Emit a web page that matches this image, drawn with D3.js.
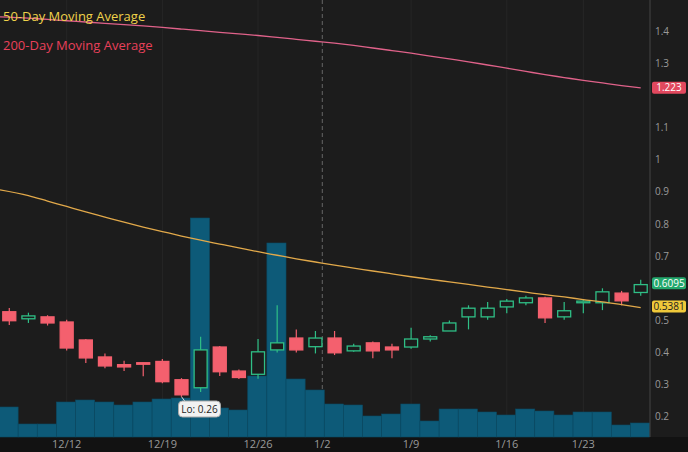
<!DOCTYPE html><html><head><meta charset="utf-8">
<script src="https://cdn.jsdelivr.net/npm/d3@7"></script>
<style>body{margin:0;background:#1c1c1c}</style></head><body><svg id="c" width="688" height="452"></svg>
<script>
const dates=["12/9","12/10","12/11","12/12","12/15","12/16","12/17","12/18","12/19","12/22","12/23","12/24","12/25","12/26","12/29","12/30","12/31","1/2","1/5","1/6","1/8","1/9","1/12","1/13","1/14","1/15","1/16","1/20","1/21","1/22","1/23","1/26","1/27","1/28"];
const openV=[0.525,0.503,0.509,0.493,0.437,0.384,0.360,0.366,0.370,0.313,0.288,0.415,0.340,0.330,0.406,0.443,0.416,0.443,0.403,0.428,0.415,0.415,0.440,0.465,0.509,0.509,0.540,0.553,0.568,0.509,0.553,0.553,0.583,0.585];
const closeV=[0.497,0.512,0.490,0.412,0.381,0.356,0.353,0.365,0.307,0.266,0.406,0.338,0.320,0.400,0.428,0.406,0.443,0.397,0.418,0.403,0.406,0.440,0.447,0.490,0.536,0.536,0.558,0.568,0.506,0.528,0.558,0.587,0.559,0.6095];
const highV=[0.537,0.522,0.514,0.500,0.440,0.395,0.372,0.366,0.378,0.318,0.447,0.418,0.345,0.440,0.545,0.470,0.465,0.465,0.425,0.432,0.425,0.475,0.452,0.498,0.545,0.555,0.565,0.575,0.572,0.555,0.565,0.598,0.590,0.625];
const lowV=[0.484,0.490,0.482,0.404,0.365,0.349,0.340,0.324,0.302,0.260,0.275,0.325,0.315,0.316,0.398,0.398,0.395,0.390,0.400,0.380,0.380,0.410,0.432,0.475,0.470,0.500,0.520,0.545,0.490,0.500,0.520,0.530,0.545,0.575];
const volume=[30,13,13,35,37,35,32,35,38,39,219,29,27,61,194,58,47,33,32,21,23,33,16,28,28,25,22,28,26,22,25,25,12,14];
const ma50=[0.905,0.887,0.870,0.853,0.836,0.820,0.804,0.789,0.775,0.761,0.748,0.736,0.724,0.712,0.701,0.690,0.680,0.670,0.661,0.652,0.643,0.634,0.626,0.618,0.610,0.602,0.594,0.586,0.578,0.571,0.563,0.556,0.547,0.5381];
const ma200=[1.444,1.440,1.436,1.432,1.428,1.424,1.420,1.416,1.411,1.406,1.401,1.396,1.391,1.386,1.380,1.374,1.368,1.362,1.355,1.347,1.339,1.331,1.322,1.313,1.304,1.294,1.284,1.274,1.264,1.255,1.246,1.238,1.230,1.223];
const priceTicks=[1.4,1.3,1.1,1,0.9,0.8,0.7,0.5,0.4,0.3,0.2];
const dateTicks=["12/12","12/19","12/26","1/2","1/9","1/16","1/23"];

const svg=d3.select("#c");
const W=650,H=437;
svg.append("rect").attr("width",688).attr("height",452).attr("fill","#1c1c1c");
svg.append("rect").attr("y",H).attr("width",688).attr("height",15).attr("fill","#121212");
const x=d3.scaleBand().domain(dates).range([0,W]).paddingInner(0.03).paddingOuter(0.0);
const y=d3.scaleLinear().domain([0.2,1.4]).range([416,31]);
const yv=d3.scaleLinear().domain([0,219]).range([H,218]);
const cx=d=>x(d)+x.bandwidth()/2;
const tx=d=>d==="1/2"?x(d)-3:cx(d);
// grid
svg.append("g").selectAll("line").data(dateTicks).join("line")
 .attr("x1",d=>tx(d)).attr("x2",d=>tx(d)).attr("y1",0).attr("y2",H)
 .attr("stroke",d=>d==="1/2"?"#666":"#262626").attr("stroke-dasharray",d=>d==="1/2"?"4,3":null);
// volume
svg.append("g").selectAll("rect").data(dates).join("rect")
 .attr("x",d=>x(d)-1).attr("width",x.step()).attr("y",(d,i)=>yv(volume[i])).attr("height",(d,i)=>H-yv(volume[i]))
 .attr("fill","#0d5a78").attr("stroke","#0a4a63").attr("stroke-width",0.6);
// candles
const g=svg.append("g");
dates.forEach((d,i)=>{
 const up=closeV[i]>=openV[i], col=up?"#2fbf86":"#f4606e";
 g.append("line").attr("x1",cx(d)).attr("x2",cx(d)).attr("y1",y(highV[i])).attr("y2",y(lowV[i])).attr("stroke",col).attr("stroke-width",1.2);
 const t=y(Math.max(openV[i],closeV[i])), b=y(Math.min(openV[i],closeV[i]));
 const bw=13;
 g.append("rect").attr("x",cx(d)-bw/2).attr("width",bw).attr("y",t).attr("height",Math.max(1.5,b-t))
  .attr("fill",up?"#1c1c1c":col).attr("stroke",col).attr("stroke-width",1.3);
});
// MAs
const line=d3.line().x((v,i)=>i===0?0:cx(dates[i])).y(v=>y(v)).curve(d3.curveMonotoneX);
svg.append("path").attr("d",line(ma50)).attr("fill","none").attr("stroke","#e2a94a").attr("stroke-width",1.3);
svg.append("path").attr("d",line(ma200)).attr("fill","none").attr("stroke","#e0628a").attr("stroke-width",1.3);
// right axis
svg.append("line").attr("x1",W).attr("x2",W).attr("y1",0).attr("y2",H).attr("stroke","#444");
svg.append("g").selectAll("text").data(priceTicks).join("text")
 .attr("x",655).attr("y",d=>y(d)+4).attr("fill","#9a9a9a").attr("font-family","Open Sans").attr("font-size",10)
 .text(d=>d===1?"1":d);
svg.append("g").selectAll("text").data(dateTicks).join("text")
 .attr("x",d=>tx(d)).attr("y",448).attr("text-anchor","middle").attr("fill","#9a9a9a").attr("font-family","Open Sans").attr("font-size",11).text(d=>d);
// value labels
function tag(v,txt,bg,fg){
 const yy=y(v);
 svg.append("rect").attr("x",652).attr("y",yy-6).attr("width",34).attr("height",12).attr("rx",2).attr("fill",bg);
 svg.append("text").attr("x",669).attr("y",yy+3.5).attr("text-anchor","middle").attr("fill",fg).attr("font-family","Open Sans").attr("font-size",10).text(txt);
}
tag(ma200[33],"1.223","#e2485e","#fff");
tag(closeV[33]+0.004,"0.6095","#23a86c","#fff");
tag(ma50[33]+0.003,"0.5381","#f0c93a","#222");
// legend
svg.append("text").attr("x",3).attr("y",21).attr("fill","#f0d24a").attr("font-family","Open Sans").attr("font-size",13).text("50-Day Moving Average");
svg.append("text").attr("x",3).attr("y",50).attr("fill","#e8405a").attr("font-family","Open Sans").attr("font-size",13).text("200-Day Moving Average");
// Lo tooltip
const lx=cx(dates[9]);
svg.append("line").attr("x1",lx).attr("x2",lx+4).attr("y1",y(lowV[9])).attr("y2",402).attr("stroke","#ddd");
svg.append("rect").attr("x",lx-3).attr("y",401).attr("width",42).attr("height",16).attr("rx",4).attr("fill","#f2f2f2").attr("stroke","#aaa");
svg.append("text").attr("x",lx+18).attr("y",413).attr("text-anchor","middle").attr("fill","#222").attr("font-family","Open Sans").attr("font-size",10).text("Lo: "+lowV[9]);
</script></body></html>
